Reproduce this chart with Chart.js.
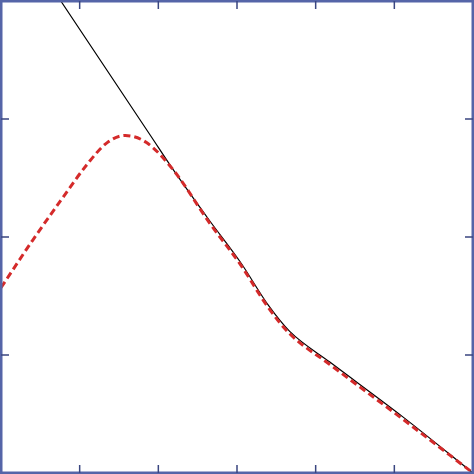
<!DOCTYPE html>
<html>
<head>
<style>html,body{margin:0;padding:0;background:#fff}#wrap{width:474px;height:474px}</style>
<script src="https://cdn.jsdelivr.net/npm/chart.js@4"></script>
</head>
<body>
<div id="wrap"><canvas id="c"></canvas></div>
<script>
var xTicks = [0, 1, 2, 3, 4, 5, 6];
var yTicks = [0, 1, 2, 3, 4];

var blackX = [0.76, 1.9, 2.2, 2.65, 3.04, 3.4, 3.67, 4.18, 5.1, 6.0];
var blackY = [4.0, 2.86, 2.56, 2.14, 1.79, 1.42, 1.2, 0.94, 0.48, 0];

var redX = [0, 0.4, 0.76, 1.1, 1.35, 1.58, 1.85, 2.2, 2.65, 3.04, 3.4, 3.67, 4.18, 5.1, 6.0];
var redY = [1.57, 1.97, 2.31, 2.62, 2.8, 2.86, 2.8, 2.56, 2.12, 1.77, 1.4, 1.18, 0.92, 0.46, 0];

function pts(xs, ys) {
    var out = [];
    for (var i = 0; i < xs.length; i++) out.push({x: xs[i], y: ys[i]});
    return out;
}

var frame = {   // draws the box and the inward ticks from the scales
    id: 'frame',
    afterDraw: function(chart) {
        var ctx = chart.ctx, a = chart.chartArea, sx = chart.scales.x, sy = chart.scales.y;
        ctx.save();
        ctx.strokeStyle = '#5565a8';
        ctx.lineWidth = 3;
        ctx.strokeRect(a.left, a.top, a.right - a.left, a.bottom - a.top);
        ctx.lineWidth = 1.5;
        ctx.strokeStyle = '#3a4680';
        xTicks.slice(1, -1).forEach(function(v) {
            var p = sx.getPixelForValue(v);
            ctx.beginPath(); ctx.moveTo(p, a.bottom); ctx.lineTo(p, a.bottom - 8);
            ctx.moveTo(p, a.top); ctx.lineTo(p, a.top + 8); ctx.stroke();
        });
        yTicks.slice(1, -1).forEach(function(v) {
            var p = sy.getPixelForValue(v);
            ctx.beginPath(); ctx.moveTo(a.left, p); ctx.lineTo(a.left + 8, p);
            ctx.moveTo(a.right, p); ctx.lineTo(a.right - 8, p); ctx.stroke();
        });
        ctx.restore();
    }
};

new Chart(document.getElementById('c'), {
    type: 'line',
    data: {
        datasets: [
            {data: pts(redX, redY), borderColor: '#d42a2a', borderWidth: 3, borderDash: [7, 4], pointRadius: 0, tension: 0.4, cubicInterpolationMode: 'monotone'},
            {data: pts(blackX, blackY), borderColor: '#000', borderWidth: 1.2, pointRadius: 0, tension: 0.4, cubicInterpolationMode: 'monotone'}
        ]
    },
    options: {
        responsive: true, maintainAspectRatio: false, animation: false,
        layout: {padding: 1},
        plugins: {legend: {display: false}, tooltip: {enabled: false}},
        scales: {
            x: {type: 'linear', min: 0, max: 6, display: false},
            y: {min: 0, max: 4, display: false}
        }
    },
    plugins: [frame]
});
</script>
</body>
</html>
